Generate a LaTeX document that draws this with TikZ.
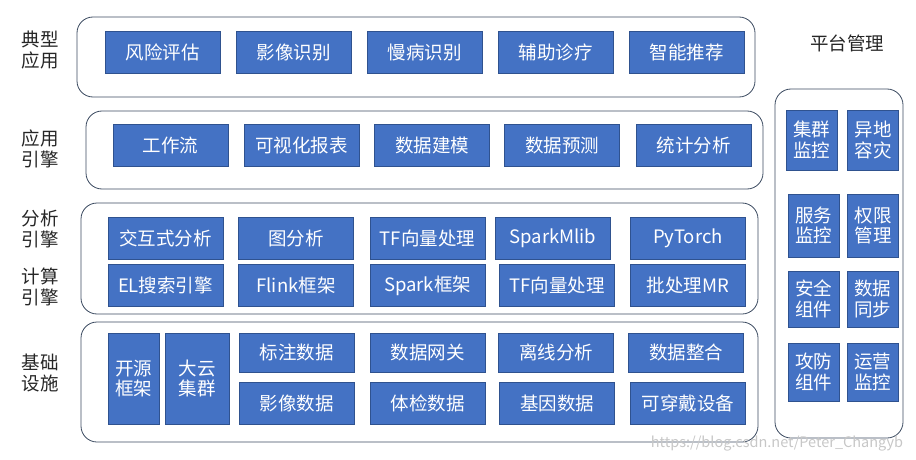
\documentclass[tikz,border=0pt]{standalone}
\usepackage{fontspec}
\setmainfont{Noto Sans CJK SC}
\definecolor{boxblue}{HTML}{4472C4}
\definecolor{boxedge}{HTML}{2F528F}
\definecolor{bandedge}{HTML}{3B4A60}
\newcommand{\bx}{\fontsize{18.5}{20.5}\selectfont}

\begin{document}
\begin{tikzpicture}[x=1pt,y=-1pt,
   blk/.style={fill=boxblue,draw=boxedge,text=white,inner sep=0pt,
               minimum width=115pt,minimum height=42pt,font=\bx,align=center},
   sml/.style={blk,minimum width=51pt},
   band/.style={draw=bandedge,line width=0.8pt,rounded corners=16pt},
   lbl/.style={font=\bx,align=center,text=black!85}]
   \useasboundingbox (0,0) rectangle (916,460);
   % layers
   \draw[band] (77,17) rectangle (755,97);
   \draw[band] (86,111) rectangle (763,189);
   \draw[band] (81,203) rectangle (758,314);
   \draw[band] (81,322) rectangle (758,442);
   \draw[band] (775,89) rectangle (903,438);
   % left labels
   \node[lbl] (lyy) at (40,50)  {典型\\应用};
   \node[lbl] (lyq) at (40,149) {应用\\引擎};
   \node[lbl] (lfx) at (40,229) {分析\\引擎};
   \node[lbl] (ljs) at (40,287) {计算\\引擎};
   \node[lbl] (ljc) at (40,373) {基础\\设施};
   \node[lbl] (lpt) at (847,43) {平台管理};
   % typical applications
   \node[blk] (a1) at (162.5,52.5) {风险评估};
   \node[blk] (a2) at (293.5,52.5) {影像识别};
   \node[blk] (a3) at (424.5,52.5) {慢病识别};
   \node[blk] (a4) at (555.5,52.5) {辅助诊疗};
   \node[blk] (a5) at (686.5,52.5) {智能推荐};
   % application engine
   \node[blk] (b1) at (170.5,145) {工作流};
   \node[blk] (b2) at (301.5,145) {可视化报表};
   \node[blk] (b3) at (432,145)   {数据建模};
   \node[blk] (b4) at (562,145)   {数据预测};
   \node[blk] (b5) at (693.5,145) {统计分析};
   % analysis / compute engine
   \node[blk] (c1) at (165.5,238) {交互式分析};
   \node[blk] (c2) at (296,238)   {图分析};
   \node[blk] (c3) at (427.5,238) {TF向量处理};
   \node[blk] (c4) at (553,238)   {SparkMlib};
   \node[blk] (c5) at (688,238)   {PyTorch};
   \node[blk] (d1) at (165.5,285.5) {EL搜索引擎};
   \node[blk] (d2) at (296,285.5)   {Flink框架};
   \node[blk] (d3) at (427.5,285.5) {Spark框架};
   \node[blk] (d4) at (557,285.5)   {TF向量处理};
   \node[blk] (d5) at (688,285.5)   {批处理MR};
   % infrastructure
   \node[blk,minimum width=51pt,minimum height=91pt] (e1) at (133.5,378.5) {开源\\框架};
   \node[blk,minimum width=64pt,minimum height=91pt] (e2) at (197,378.5)   {大云\\集群};
   \node[blk,minimum height=39pt] (f1) at (296.5,352.5) {标注数据};
   \node[blk,minimum height=39pt] (f2) at (427.5,352.5) {数据网关};
   \node[blk,minimum height=39pt] (f3) at (556,352.5)   {离线分析};
   \node[blk,minimum height=39pt] (f4) at (686,352.5)   {数据整合};
   \node[blk] (g1) at (296.5,403) {影像数据};
   \node[blk] (g2) at (427.5,403) {体检数据};
   \node[blk] (g3) at (557,403)   {基因数据};
   \node[blk] (g4) at (688,403)   {可穿戴设备};
   % platform management
   \node[sml,minimum height=60pt] (p1) at (811.5,140)   {集群\\监控};
   \node[sml,minimum height=60pt] (p2) at (873,140)     {异地\\容灾};
   \node[sml,minimum height=63pt] (p3) at (813.5,225.5) {服务\\监控};
   \node[sml,minimum height=63pt] (p4) at (873,225.5)   {权限\\管理};
   \node[sml,minimum height=56pt] (p5) at (813.5,299)   {安全\\组件};
   \node[sml,minimum height=56pt] (p6) at (872.5,299)   {数据\\同步};
   \node[sml,minimum height=58pt] (p7) at (813.5,372)   {攻防\\组件};
   \node[sml,minimum height=58pt] (p8) at (872.5,372)   {运营\\监控};
   % watermark
   \node[text=black!22,font=\fontsize{14.5}{16}\selectfont] (wm) at (777,444) {https://blog.csdn.net/Peter\_Changyb};
\end{tikzpicture}
\end{document}
